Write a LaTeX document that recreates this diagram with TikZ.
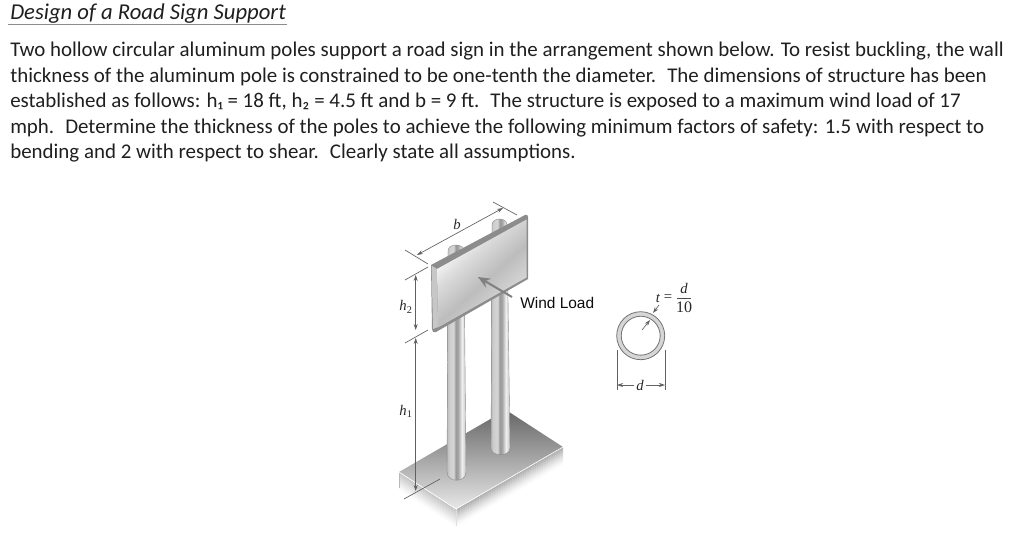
\documentclass[tikz,border=0pt]{standalone}
\usepackage{fontspec}
\setmainfont{Carlito}
\newfontfamily\serifit{Liberation Serif}[ItalicFont=* Italic]
\newfontfamily\labelsans{Liberation Sans}
\usetikzlibrary{arrows.meta}
\pgfdeclarehorizontalshading{polesh}{100bp}{
 color(0bp)=(black!50);color(14bp)=(black!45);color(30bp)=(black!20);color(42bp)=(black!16);
 color(48bp)=(black!40);color(55bp)=(black!34);color(64bp)=(black!6);color(72bp)=(black!18);color(86bp)=(black!50);color(100bp)=(black!55)}
\pgfdeclareverticalshading{signsh}{100bp}{
 color(0bp)=(black!12);color(30bp)=(black!14);color(46bp)=(black!26);color(60bp)=(black!14);color(71bp)=(black!1);color(80bp)=(black!8);color(90bp)=(black!22);color(100bp)=(black!26)}
\tikzset{
 x=0.75pt,y=-0.75pt,
 bodytext/.style={anchor=base west,inner sep=0pt,font=\fontsize{15.7pt}{18pt}\selectfont,text=black!88},
 titletext/.style={anchor=base west,inner sep=0pt,font=\fontsize{17pt}{20pt}\selectfont\itshape,text=black!88},
 dimlabel/.style={inner sep=0pt,font=\fontsize{11pt}{12pt}\selectfont\serifit\itshape,text=black!85},
 dimline/.style={draw=black!62,line width=0.5pt},
 dimarrow/.style={dimline,{Stealth[length=4.5pt,width=3pt]}-{Stealth[length=4.5pt,width=3pt]}},
 poleface/.style={draw=black!45,line width=0.3pt,shading=polesh},
}
\begin{document}
\begin{tikzpicture}
\useasboundingbox (0,0) rectangle (1024,532);
% text
\node[titletext] (title) at (10,19.5) {Design of a Road Sign Support};
\draw[draw=black!45,line width=0.5pt] (8,24) -- (287,24);
\node[bodytext] (l1) at (10,56.6) {Two hollow circular aluminum poles support a road sign in the arrangement shown below. To resist buckling, the wall};
\node[bodytext] (l2) at (10,82.1) {thickness of the aluminum pole is constrained to be one-tenth the diameter.~ The dimensions of structure has been};
\node[bodytext] (l3) at (10,107.4) {established as follows: h₁ = 18 ft, h₂ = 4.5 ft and b = 9 ft.~ The structure is exposed to a maximum wind load of 17};
\node[bodytext] (l4) at (10,133) {mph.~ Determine the thickness of the poles to achieve the following minimum factors of safety: 1.5 with respect to};
\node[bodytext] (l5) at (10,158.4) {bending and 2 with respect to shear.~ Clearly state all assumptions.};
% base: side faces (strips fading downward) then top
\foreach \i in {0,...,17}{
 \pgfmathsetmacro{\cr}{34*(1-\i/18)^1.4}
 \pgfmathsetmacro{\cl}{24*(1-\i/18)^1.2}
 \fill[black!\cr] (456,509+\i) -- (563,447+\i) -- (563,448.2+\i) -- (456,510.2+\i) -- cycle;
 \fill[black!\cl] (399,472+\i) -- (456,509+\i) -- (456,510.2+\i) -- (399,473.2+\i) -- cycle;
}
\shade[top color=black!60,bottom color=black!9] (399,472) -- (506,410) -- (563,447) -- (456,509) -- cycle;
\draw[draw=black!28,line width=0.4pt] (399,472) -- (399,488);
\draw[draw=black!12,line width=0.4pt] (456,509) -- (456,526);
\draw[draw=white,line width=0.5pt] (399,472) -- (456,509) -- (563,447);
% poles
\path[poleface] (492,225) .. controls (492,217) and (507,217) .. (507,225) -- (510,448) .. controls (510,457) and (491,457) .. (491,448) -- cycle;
\path[poleface] (448,251) .. controls (448,243) and (464,243) .. (464,251) -- (466,472) .. controls (466,483) and (447,483) .. (447,472) -- cycle;
% sign
\fill[black!45] (431,265) -- (525,215) .. controls (527,214) and (528,215) .. (528,217) -- (528,279) -- (436,332) .. controls (433,333) and (432,331) .. (432,329) -- cycle;
\fill[black!22] (431.5,265.5) -- (437,269) -- (438,327) -- (433,329) -- cycle;
\shade[shading=signsh,shading angle=42] (437,269) -- (526.5,219.5) -- (526.5,277.5) -- (438,327.5) -- cycle;
% wind
\coordinate (windtail) at (512,297);
\coordinate (windtip) at (478,277);
\draw[draw=black!50,line width=1.5pt,-{Stealth[length=9pt,width=7.5pt]}] (windtail) -- (windtip);
\node[inner sep=0pt,anchor=base west,font=\fontsize{11.6pt}{14pt}\selectfont\labelsans,text=black!95] (wind) at (520,308) {Wind Load};
% dimensions
\coordinate (bA) at (417,255); \coordinate (bB) at (503,208);
\draw[dimarrow] (bA) -- (bB);
\coordinate (eb1) at (405,250); \coordinate (eb2) at (428,264);
\coordinate (eb3) at (493,202); \coordinate (eb4) at (517,215);
\draw[dimline] (eb1) -- (eb2); \draw[dimline] (eb3) -- (eb4);
\node[dimlabel] (blabel) at (457,224) {b};
\coordinate (h2a) at (415.7,275); \coordinate (h2b) at (415.7,330);
\coordinate (h1a) at (415.7,338); \coordinate (h1b) at (415.7,491);
\draw[dimarrow] (h2a) -- (h2b);
\draw[dimarrow] (h1a) -- (h1b);
\coordinate (e1) at (405,280); \coordinate (e2) at (428,267);
\coordinate (e3) at (405,343); \coordinate (e4) at (428,330);
\coordinate (e5) at (404,499); \coordinate (e6) at (440,479);
\draw[dimline] (e1) -- (e2); \draw[dimline] (e3) -- (e4); \draw[dimline] (e5) -- (e6);
\node[dimlabel] (h2) at (406,307) {h\textsubscript{\upshape 2}};
\node[dimlabel] (h1) at (406,411) {h\textsubscript{\upshape 1}};
% section
\draw[draw=black!55,line width=0.6pt,fill=black!16,even odd rule] (640.7,335.7) circle[radius=18pt] (640.7,335.7) circle[radius=14.6pt];
\coordinate (t1) at (659,305); \coordinate (t2) at (653,313);
\coordinate (t3) at (642,330); \coordinate (t4) at (650,320);
\draw[dimline,-{Stealth[length=4.5pt,width=3pt]}] (t1) -- (t2);
\draw[dimline,-{Stealth[length=4.5pt,width=3pt]}] (t3) -- (t4);
\coordinate (d1) at (617,350); \coordinate (d2) at (617,390);
\coordinate (d3) at (665,350); \coordinate (d4) at (665,390);
\draw[dimline] (d1) -- (d2); \draw[dimline] (d3) -- (d4);
\coordinate (da) at (617,385); \coordinate (db) at (665,385);
\node[dimlabel,inner sep=1.5pt] (dlabel) at (640,385) {d};
\draw[dimline,{Stealth[length=4.5pt,width=3pt]}-] (da) -- (dlabel.west);
\draw[dimline,-{Stealth[length=4.5pt,width=3pt]}] (dlabel.east) -- (db);
\node[dimlabel] (tlabel) at (658,298) {t};
\node[dimlabel,font=\fontsize{11pt}{12pt}\selectfont\serifit] (teq) at (668,298) {=};
\node[dimlabel] (fd) at (684,288.5) {d};
\draw[draw=black!70,line width=0.5pt] (677,298) -- (691,298);
\node[dimlabel,font=\fontsize{12pt}{13pt}\selectfont\serifit] (ften) at (684,307.5) {10};
\end{tikzpicture}
\end{document}
